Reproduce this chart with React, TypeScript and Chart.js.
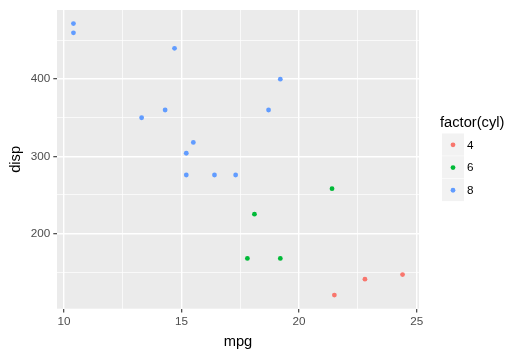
import React, { useEffect, useRef } from "react";
import { Chart, registerables } from "chart.js";

Chart.register(...registerables);

const cylLevels = ["4", "6", "8"];
const cylColors = ["#F8766D", "#00BA38", "#619CFF"];

const mpg4 = [22.8, 24.4, 21.5];
const disp4 = [140.8, 146.7, 120.1];
const mpg6 = [21.4, 18.1, 19.2, 17.8];
const disp6 = [258, 225, 167.6, 167.6];
const mpg8 = [18.7, 14.3, 16.4, 17.3, 15.2, 10.4, 10.4, 14.7, 15.5, 15.2, 13.3, 19.2];
const disp8 = [360, 360, 275.8, 275.8, 275.8, 472, 460, 440, 318, 304, 350, 400];

const xTicks = [10, 12.5, 15, 17.5, 20, 22.5, 25];
const xMajor = [10, 15, 20, 25];
const yTicks = [150, 200, 250, 300, 350, 400, 450];
const yMajor = [200, 300, 400];

const FONT = "'Liberation Sans', Arial, sans-serif";

const bgPlugin = {
  id: "ggbg",
  beforeDraw(chart: any) {
    const { ctx, chartArea } = chart;
    ctx.save();
    ctx.fillStyle = "#EBEBEB";
    ctx.fillRect(chartArea.left, chartArea.top, chartArea.right - chartArea.left, chartArea.bottom - chartArea.top);
    ctx.restore();
  },
  afterDraw(chart: any) {
    const { ctx, chartArea } = chart;
    ctx.save();
    ctx.fillStyle = "#000000";
    ctx.font = `14.7px ${FONT}`;
    // x title
    ctx.textAlign = "center";
    ctx.textBaseline = "middle";
    ctx.fillText("mpg", (chartArea.left + chartArea.right) / 2, 342);
    // y title
    ctx.save();
    ctx.translate(16, (chartArea.top + chartArea.bottom) / 2);
    ctx.rotate(-Math.PI / 2);
    ctx.fillText("disp", 0, 0);
    ctx.restore();
    // legend
    ctx.textAlign = "left";
    ctx.fillText("factor(cyl)", 440, 123);
    const keyX = 442, keyW = 22, keyH = 22.7, keyTop = 133.5;
    chart.data.datasets.forEach((ds: any, i: number) => {
      const y = keyTop + i * keyH;
      ctx.fillStyle = "#F2F2F2";
      ctx.fillRect(keyX, y, keyW, keyH - 0.5);
      ctx.fillStyle = ds.backgroundColor;
      ctx.beginPath();
      ctx.arc(keyX + keyW / 2, y + keyH / 2, 2.4, 0, Math.PI * 2);
      ctx.fill();
      ctx.fillStyle = "#000000";
      ctx.font = `11.7px ${FONT}`;
      ctx.fillText(ds.label, 467, y + keyH / 2 + 0.5);
    });
    ctx.restore();
  },
};

function toPts(xs: number[], ys: number[]) {
  return xs.map((x, i) => ({ x, y: ys[i] }));
}

export default function App() {
  const ref = useRef<HTMLCanvasElement>(null);
  useEffect(() => {
    if (!ref.current) return;
    const series = [
      [mpg4, disp4],
      [mpg6, disp6],
      [mpg8, disp8],
    ];
    const chart = new Chart(ref.current, {
      type: "scatter",
      data: {
        datasets: series.map(([xs, ys], i) => ({
          label: cylLevels[i],
          data: toPts(xs, ys),
          backgroundColor: cylColors[i],
          borderColor: cylColors[i],
          pointRadius: 2.4,
          pointBorderWidth: 0,
        })),
      },
      options: {
        responsive: false,
        animation: false,
        devicePixelRatio: 1,
        layout: { padding: { left: 0, top: 7, right: 102, bottom: 0 } },
        plugins: { legend: { display: false }, tooltip: { enabled: false } },
        scales: {
          x: {
            type: "linear",
            min: 9.7,
            max: 25.1,
            afterBuildTicks: (s: any) => {
              s.ticks = xTicks.map((v) => ({ value: v }));
            },
            afterFit: (s: any) => {
              s.height = 47.3;
            },
            border: { display: false },
            grid: {
              color: "#FFFFFF",
              lineWidth: (c: any) => (xMajor.includes(c.tick?.value) ? 1.4 : 0.7),
              tickColor: (c: any) => (xMajor.includes(c.tick?.value) ? "#333333" : "rgba(0,0,0,0)"),
              tickWidth: 1.1,
              tickLength: 3.7,
              drawTicks: true,
            },
            ticks: {
              autoSkip: false,
              maxRotation: 0,
              padding: 2,
              color: "#4D4D4D",
              font: { family: FONT, size: 11.7 },
              callback: (v: any) => (xMajor.includes(Number(v)) ? String(v) : ""),
            },
          },
          y: {
            type: "linear",
            min: 102.5,
            max: 489.6,
            afterBuildTicks: (s: any) => {
              s.ticks = yTicks.map((v) => ({ value: v }));
            },
            afterFit: (s: any) => {
              s.width = 57;
            },
            border: { display: false },
            grid: {
              color: "#FFFFFF",
              lineWidth: (c: any) => (yMajor.includes(c.tick?.value) ? 1.4 : 0.7),
              tickColor: (c: any) => (yMajor.includes(c.tick?.value) ? "#333333" : "rgba(0,0,0,0)"),
              tickWidth: 1.1,
              tickLength: 3.7,
              drawTicks: true,
            },
            ticks: {
              autoSkip: false,
              padding: 3,
              color: "#4D4D4D",
              font: { family: FONT, size: 11.7 },
              callback: (v: any) => (yMajor.includes(Number(v)) ? String(v) : ""),
            },
          },
        },
      },
      plugins: [bgPlugin],
    } as any);
    return () => chart.destroy();
  }, []);
  return (
    <div style={{ position: "absolute", left: 0, top: 0, width: 521, height: 356, background: "#FFFFFF" }}>
      <canvas ref={ref} width={521} height={356} style={{ display: "block", width: 521, height: 356 }} />
    </div>
  );
}
